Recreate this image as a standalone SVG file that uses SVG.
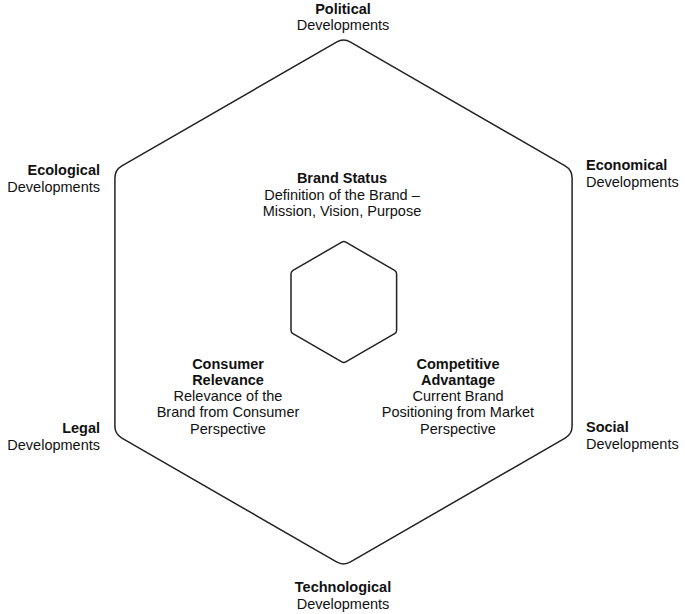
<svg xmlns="http://www.w3.org/2000/svg" width="685" height="614" viewBox="0 0 685 614">
<style>
text{font-family:"Liberation Sans",Arial,sans-serif;font-size:14.5px;fill:#111}
.b{font-weight:700}
.c{text-anchor:middle}
.r{text-anchor:end}
.hex{fill:none;stroke:#222;stroke-width:1.5;stroke-linejoin:round}
</style>
<rect width="685" height="614" fill="#fff"/>
<g id="outer-hexagon">
<path class="hex" d="M336.5,42.04 A14,14 0 0 1 350.5,42.04 L565.1,165.96 A14,14 0 0 1 572.1,178.08 L572.1,425.92 A14,14 0 0 1 565.1,438.04 L350.5,561.96 A14,14 0 0 1 336.5,561.96 L121.9,438.04 A14,14 0 0 1 114.9,425.92 L114.9,178.08 A14,14 0 0 1 121.9,165.96 Z"/>
</g>
<g id="inner-hexagon">
<path class="hex" d="M341.8,242.16 A4,4 0 0 1 345.8,242.16 L394.6,270.35 A4,4 0 0 1 396.6,273.81 L396.6,330.19 A4,4 0 0 1 394.6,333.66 L345.8,361.85 A4,4 0 0 1 341.8,361.85 L293,333.66 A4,4 0 0 1 291,330.19 L291,273.81 A4,4 0 0 1 293,270.35 Z"/>
</g>
<g id="political">
<text class="c b" x="343" y="13.5">Political</text>
<text class="c" x="343" y="30">Developments</text>
</g>
<g id="ecological">
<text class="r b" x="100" y="175">Ecological</text>
<text class="r" x="100" y="192">Developments</text>
</g>
<g id="economical">
<text class="b" x="586" y="170">Economical</text>
<text x="586" y="187">Developments</text>
</g>
<g id="legal">
<text class="r b" x="100" y="433">Legal</text>
<text class="r" x="100" y="450">Developments</text>
</g>
<g id="social">
<text class="b" x="586" y="432">Social</text>
<text x="586" y="449">Developments</text>
</g>
<g id="technological">
<text class="c b" x="343" y="592">Technological</text>
<text class="c" x="343" y="609">Developments</text>
</g>
<g id="brand-status">
<text class="c b" x="342" y="183">Brand Status</text>
<text class="c" x="342" y="199.5">Definition of the Brand –</text>
<text class="c" x="342" y="216">Mission, Vision, Purpose</text>
</g>
<g id="consumer-relevance">
<text class="c b" x="228" y="368.5">Consumer</text>
<text class="c b" x="228" y="384.8">Relevance</text>
<text class="c" x="228" y="401.1">Relevance of the</text>
<text class="c" x="228" y="417.4">Brand from Consumer</text>
<text class="c" x="228" y="433.7">Perspective</text>
</g>
<g id="competitive-advantage">
<text class="c b" x="458" y="368.5">Competitive</text>
<text class="c b" x="458" y="384.8">Advantage</text>
<text class="c" x="458" y="401.1">Current Brand</text>
<text class="c" x="458" y="417.4">Positioning from Market</text>
<text class="c" x="458" y="433.7">Perspective</text>
</g>
</svg>
